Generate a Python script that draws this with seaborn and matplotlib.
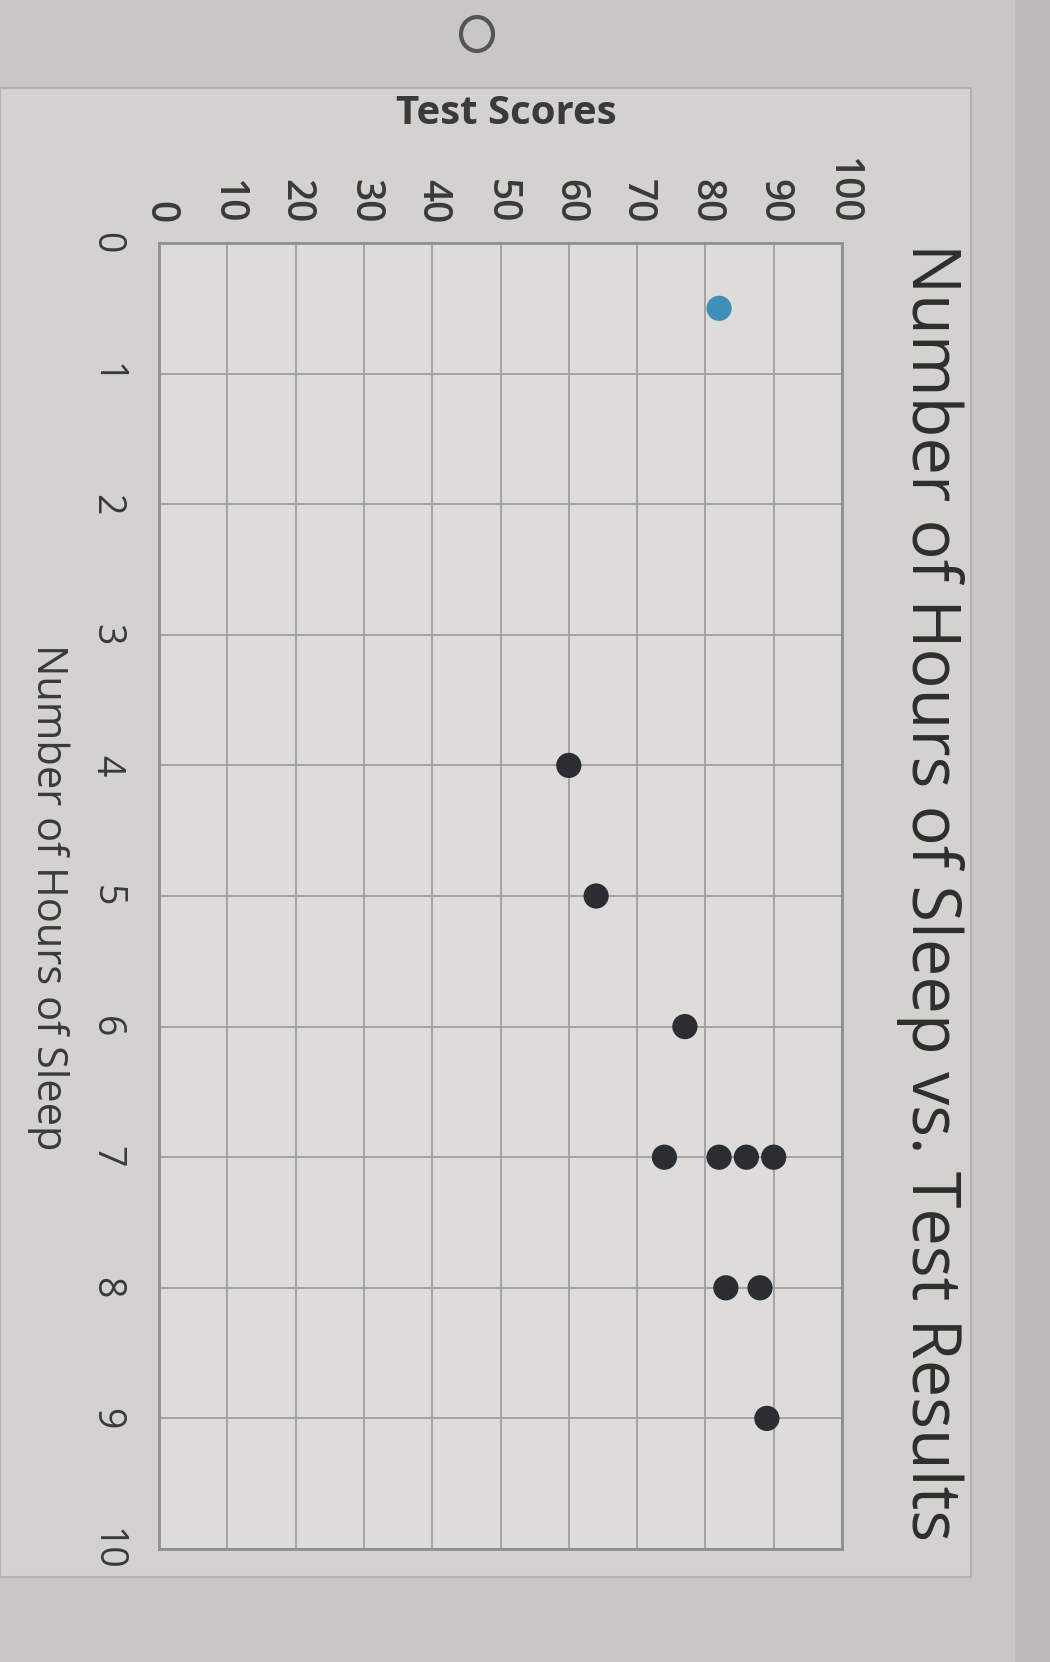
import matplotlib
matplotlib.use("Agg")
import matplotlib.pyplot as plt
from matplotlib.patches import Rectangle, Ellipse
import seaborn as sns
import pandas as pd

# ---- data ----
hours = [0.5, 4, 5, 6, 7, 7, 7, 7, 8, 8, 9]
scores = [82, 60, 64, 77, 74, 82, 86, 90, 83, 88, 89]
group = ["new", "old", "old", "old", "old", "old", "old", "old", "old", "old", "old"]
hour_ticks = [0, 1, 2, 3, 4, 5, 6, 7, 8, 9, 10]
score_ticks = [0, 10, 20, 30, 40, 50, 60, 70, 80, 90, 100]
title = "Number of Hours of Sleep vs. Test Results"
xlabel = "Number of Hours of Sleep"
ylabel = "Test Scores"

df = pd.DataFrame({"hours": hours, "score": scores, "group": group})

sns.set_style("white")
plt.rcParams["font.family"] = ["Open Sans", "DejaVu Sans"]

W, H = 1050, 1662
fig = plt.figure(figsize=(W / 100, H / 100), dpi=100)
fig.patch.set_facecolor("#c9c7c3")

# card panel behind chart
fig.add_artist(Rectangle((0, 1 - 1577 / H), 971 / W, (1577 - 88) / H,
                         transform=fig.transFigure, facecolor="#d3d2cf",
                         edgecolor="#b3b1ad", lw=1.5, zorder=0))
fig.add_artist(Rectangle((1015 / W, 0), 1 - 1015 / W, 1,
                         transform=fig.transFigure, facecolor="#bdbbb7",
                         edgecolor="none", zorder=0))

left, right, top, bottom = 159, 842, 243, 1549
ax = fig.add_axes([left / W, 1 - bottom / H, (right - left) / W, (bottom - top) / H])
ax.set_facecolor("#dddcda")

sns.scatterplot(data=df, x="score", y="hours", hue="group",
                palette={"new": "#3f8fb9", "old": "#2a2d31"},
                s=330, edgecolor="none", legend=False, ax=ax, zorder=3)

ax.set_xlim(0, 100)
ax.set_ylim(10, 0)
ax.set_xticks(score_ticks)
ax.set_yticks(hour_ticks)
ax.grid(True, color="#a3a3a3", lw=1.4)
ax.set_axisbelow(True)
for sp in ax.spines.values():
    sp.set_color("#8f8f8f")
    sp.set_linewidth(2)

ax.xaxis.tick_top()
ax.set_xticklabels([str(v) for v in score_ticks], rotation=-90, fontsize=28,
                   fontweight="semibold", color="#3a3a3a", va="bottom", ha="center")
ax.set_yticklabels([str(v) for v in hour_ticks], rotation=-90, fontsize=27,
                   color="#3a3a3a", va="center", ha="center")
ax.tick_params(axis="x", length=0, pad=14)
ax.tick_params(axis="y", length=0, pad=38)
ax.set_xlabel("")
ax.set_ylabel("")

fig.text(506 / W, 1 - 114 / H, ylabel, fontsize=29, fontweight="bold",
         color="#3a3a3a", ha="center", va="center")
fig.text(48 / W, 1 - 897 / H, xlabel, fontsize=30, rotation=-90,
         color="#3a3a3a", ha="center", va="center")
fig.text(930 / W, 1 - 892 / H, title, fontsize=48, rotation=-90,
         color="#2e2e2e", ha="center", va="center")

fig.add_artist(Ellipse((477 / W, 1 - 34 / H), 32 / W, 34 / H,
                       transform=fig.transFigure, fill=False, lw=3, ec="#555555"))

fig.savefig("out.png", dpi=100, facecolor=fig.get_facecolor())
